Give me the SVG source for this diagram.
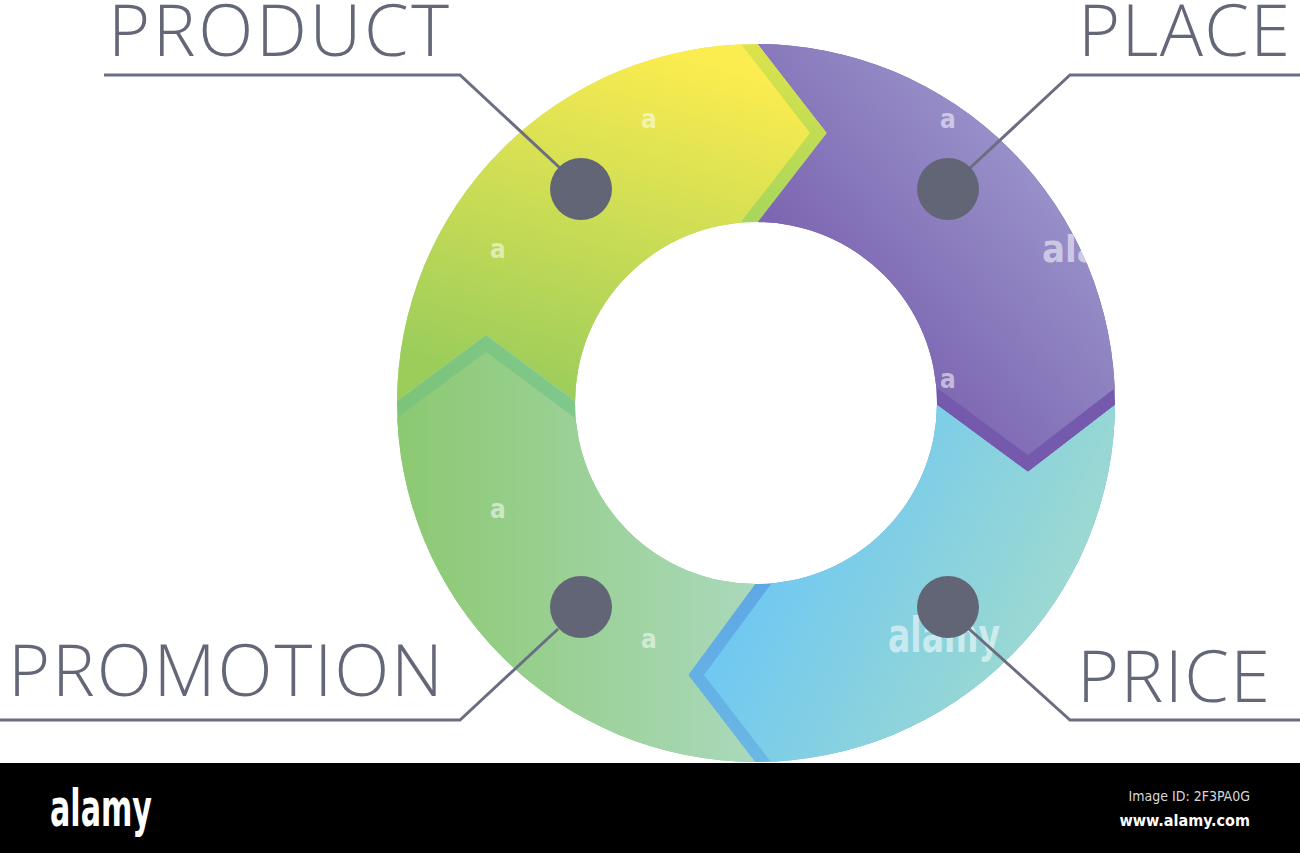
<svg xmlns="http://www.w3.org/2000/svg" width="1300" height="853" viewBox="0 0 1300 853">
<style>
.lbl{font-family:"Open Sans","Lato","Liberation Sans",sans-serif;font-weight:300;font-size:72px;fill:#646778}
.lead{fill:none;stroke:#6b6e80;stroke-width:3}
.dot{fill:#626576}
.wm{font-family:"DejaVu Sans Condensed","DejaVu Sans",sans-serif;font-weight:bold;fill:#ffffff;fill-opacity:0.55}
</style>
<defs>
<clipPath id="ring">
<path clip-rule="evenodd" d="M397,403 A359,359 0 1,0 1115,403 A359,359 0 1,0 397,403 Z M575,403 A181,181 0 1,0 937,403 A181,181 0 1,0 575,403 Z"/>
</clipPath>
<linearGradient id="gProd" gradientUnits="userSpaceOnUse" x1="660" y1="50" x2="560" y2="395">
<stop offset="0" stop-color="#fbec4f"/><stop offset="1" stop-color="#9ccd5b"/>
</linearGradient>
<linearGradient id="gProdS" gradientUnits="userSpaceOnUse" x1="760" y1="45" x2="760" y2="222">
<stop offset="0" stop-color="#dde34b"/><stop offset="1" stop-color="#a6d65b"/>
</linearGradient>
<linearGradient id="gPlace" gradientUnits="userSpaceOnUse" x1="1080" y1="170" x2="880" y2="340">
<stop offset="0" stop-color="#9c97cd"/><stop offset="1" stop-color="#7d67b2"/>
</linearGradient>
<linearGradient id="gPrice" gradientUnits="userSpaceOnUse" x1="740" y1="560" x2="1060" y2="720">
<stop offset="0" stop-color="#6cc7f4"/><stop offset="1" stop-color="#a4dccb"/>
</linearGradient>
<linearGradient id="gPriceS" gradientUnits="userSpaceOnUse" x1="760" y1="580" x2="760" y2="762">
<stop offset="0" stop-color="#5ea7e5"/><stop offset="1" stop-color="#6ab8e4"/>
</linearGradient>
<linearGradient id="gPromo" gradientUnits="userSpaceOnUse" x1="400" y1="0" x2="760" y2="0">
<stop offset="0" stop-color="#8cc971"/><stop offset="1" stop-color="#aad9bd"/>
</linearGradient>
<linearGradient id="gPromoS" gradientUnits="userSpaceOnUse" x1="400" y1="0" x2="575" y2="0">
<stop offset="0" stop-color="#7cc47a"/><stop offset="1" stop-color="#7fc88c"/>
</linearGradient>
</defs>
<rect width="1300" height="853" fill="#ffffff"/>

<g id="ring-segments" clip-path="url(#ring)">
<g id="segment-product">
<polygon fill="url(#gProdS)" points="0,0 758,0 758,44 827,133 758,222 756,403 575,401 486,335 397,401 0,401"/>
<polygon fill="url(#gProd)" points="0,0 741,0 741,44 810,133 741,222 739,403 575,401 486,335 397,401 0,401"/>
</g>
<g id="segment-place">
<polygon fill="#7459ac" points="758,0 1300,0 1300,405 1115,405 1028,472 937,405 756,403 758,222 827,133 758,44"/>
<polygon fill="url(#gPlace)" points="758,0 1300,0 1300,388 1115,388 1028,455 937,388 756,386 758,222 827,133 758,44"/>
</g>
<g id="segment-price">
<polygon fill="url(#gPriceS)" points="1300,405 1300,853 755,853 755,762 688,675 755,584 756,403 937,405 1028,472 1115,405"/>
<polygon fill="url(#gPrice)" points="1300,405 1300,853 771,853 771,762 704,675 771,584 772,403 937,405 1028,472 1115,405"/>
</g>
<g id="segment-promotion">
<polygon fill="url(#gPromoS)" points="0,401 397,401 486,335 575,401 756,403 755,584 688,675 755,762 755,853 0,853"/>
<polygon fill="url(#gPromo)" points="0,418 397,418 486,352 575,418 756,420 755,584 688,675 755,762 755,853 0,853"/>
</g>
</g>

<g id="watermarks">
<text class="wm" x="641" y="128" font-size="26">a</text>
<text class="wm" x="940" y="128" font-size="26">a</text>
<text class="wm" x="490" y="258" font-size="26">a</text>
<text class="wm" x="1042" y="262" font-size="38">ala</text>
<text class="wm" x="940" y="388" font-size="26">a</text>
<text class="wm" x="490" y="518" font-size="26">a</text>
<text class="wm" x="641" y="648" font-size="26">a</text>
<text class="wm" x="888" y="652" font-size="48" textLength="112" lengthAdjust="spacingAndGlyphs">alamy</text>
</g>

<g id="connectors">
<polyline class="lead" points="104,75 460,75 560,168"/>
<polyline class="lead" points="1300,75 1070,75 970,168"/>
<polyline class="lead" points="0,720 460,720 558,629"/>
<polyline class="lead" points="1300,720 1070,720 968,628"/>
</g>

<g id="node-product">
<circle class="dot" cx="581" cy="189" r="31"/>
<text class="lbl" x="108" y="56" textLength="341">PRODUCT</text>
</g>
<g id="node-place">
<circle class="dot" cx="948" cy="189" r="31"/>
<text class="lbl" x="1078" y="56" textLength="212">PLACE</text>
</g>
<g id="node-promotion">
<circle class="dot" cx="581" cy="607" r="31"/>
<text class="lbl" x="8" y="696" textLength="435">PROMOTION</text>
</g>
<g id="node-price">
<circle class="dot" cx="948" cy="607" r="31"/>
<text class="lbl" x="1077" y="702" textLength="193">PRICE</text>
</g>

<g id="footer">
<rect x="0" y="763" width="1300" height="90" fill="#000000"/>
<text x="50" y="826" font-family="'DejaVu Sans Condensed','DejaVu Sans',sans-serif" font-weight="bold" font-size="52" fill="#ffffff" textLength="102" lengthAdjust="spacingAndGlyphs">alamy</text>
<text x="1250" y="801" text-anchor="end" font-family="'DejaVu Sans Condensed','DejaVu Sans',sans-serif" font-size="14" fill="#d8d8d8">Image ID: 2F3PA0G</text>
<text x="1250" y="826" text-anchor="end" font-family="'DejaVu Sans Condensed','DejaVu Sans',sans-serif" font-weight="bold" font-size="16" fill="#ffffff">www.alamy.com</text>
</g>
</svg>
